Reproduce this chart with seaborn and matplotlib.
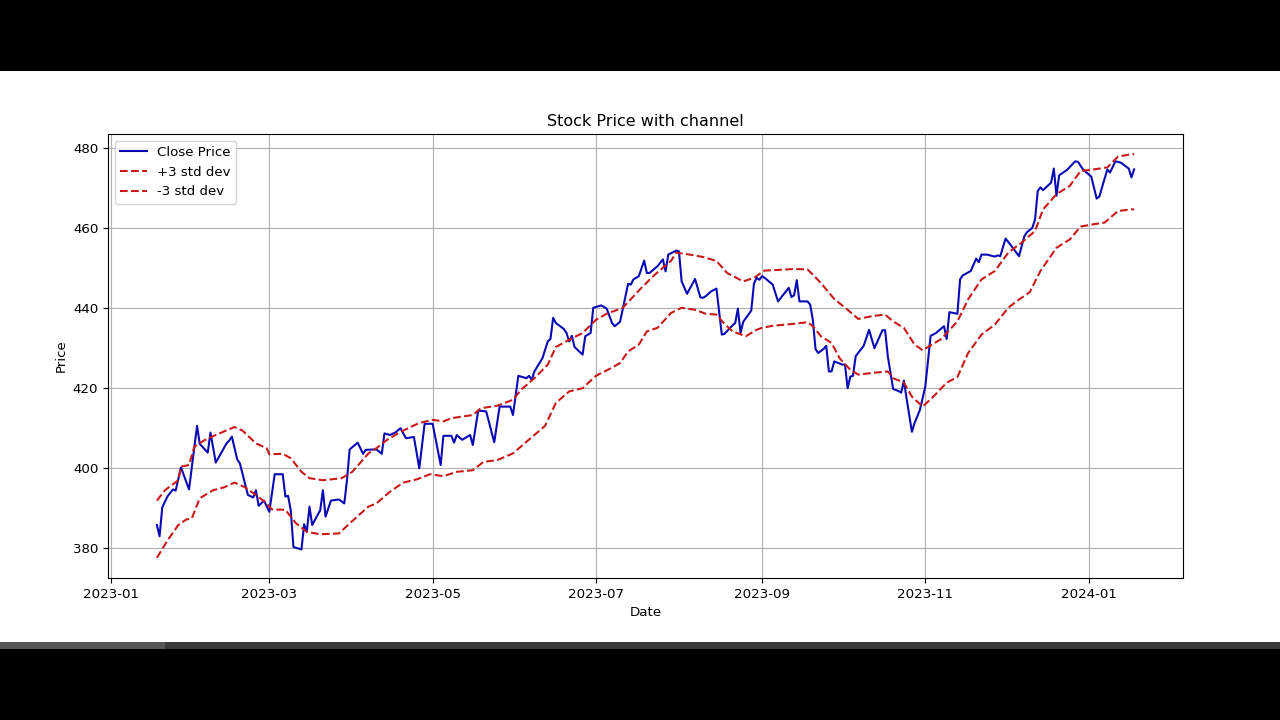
import matplotlib
matplotlib.use("Agg")
import matplotlib.pyplot as plt
import matplotlib.dates as mdates
from matplotlib.patches import Rectangle
import pandas as pd
import seaborn as sns

# close price
close_dates = [
    "2023-01-18", "2023-01-19", "2023-01-20", "2023-01-22", "2023-01-24", "2023-01-25",
    "2023-01-27", "2023-01-30", "2023-02-02", "2023-02-03", "2023-02-06", "2023-02-07",
    "2023-02-09", "2023-02-13", "2023-02-14", "2023-02-15", "2023-02-17", "2023-02-18",
    "2023-02-21", "2023-02-23", "2023-02-24", "2023-02-25", "2023-02-27", "2023-03-01",
    "2023-03-03", "2023-03-06", "2023-03-07", "2023-03-08", "2023-03-09", "2023-03-10",
    "2023-03-13", "2023-03-14", "2023-03-15", "2023-03-16", "2023-03-17", "2023-03-20",
    "2023-03-21", "2023-03-22", "2023-03-24", "2023-03-27", "2023-03-29", "2023-03-30",
    "2023-03-31", "2023-04-03", "2023-04-05", "2023-04-06", "2023-04-10", "2023-04-12",
    "2023-04-13", "2023-04-15", "2023-04-17", "2023-04-19", "2023-04-21", "2023-04-24",
    "2023-04-26", "2023-04-28", "2023-05-01", "2023-05-04", "2023-05-05", "2023-05-08",
    "2023-05-09", "2023-05-10", "2023-05-12", "2023-05-15", "2023-05-16", "2023-05-18",
    "2023-05-21", "2023-05-24", "2023-05-26", "2023-05-30", "2023-05-31", "2023-06-02",
    "2023-06-05", "2023-06-06", "2023-06-07", "2023-06-08", "2023-06-11", "2023-06-13",
    "2023-06-14", "2023-06-15", "2023-06-16", "2023-06-19", "2023-06-20", "2023-06-21",
    "2023-06-22", "2023-06-23", "2023-06-26", "2023-06-27", "2023-06-29", "2023-06-30",
    "2023-07-03", "2023-07-05", "2023-07-07", "2023-07-08", "2023-07-10", "2023-07-13",
    "2023-07-14", "2023-07-15", "2023-07-17", "2023-07-19", "2023-07-20", "2023-07-21",
    "2023-07-24", "2023-07-26", "2023-07-27", "2023-07-28", "2023-07-31", "2023-08-01",
    "2023-08-02", "2023-08-04", "2023-08-07", "2023-08-09", "2023-08-10", "2023-08-11",
    "2023-08-13", "2023-08-15", "2023-08-16", "2023-08-17", "2023-08-18", "2023-08-21",
    "2023-08-22", "2023-08-23", "2023-08-24", "2023-08-25", "2023-08-28", "2023-08-29",
    "2023-08-30", "2023-08-31", "2023-09-01", "2023-09-02", "2023-09-05", "2023-09-07",
    "2023-09-09", "2023-09-11", "2023-09-12", "2023-09-13", "2023-09-14", "2023-09-15",
    "2023-09-18", "2023-09-19", "2023-09-20", "2023-09-21", "2023-09-22", "2023-09-24",
    "2023-09-25", "2023-09-26", "2023-09-27", "2023-09-28", "2023-10-01", "2023-10-02",
    "2023-10-03", "2023-10-04", "2023-10-05", "2023-10-06", "2023-10-09", "2023-10-11",
    "2023-10-13", "2023-10-16", "2023-10-17", "2023-10-18", "2023-10-20", "2023-10-22",
    "2023-10-23", "2023-10-24", "2023-10-25", "2023-10-27", "2023-10-28", "2023-10-30",
    "2023-11-01", "2023-11-03", "2023-11-05", "2023-11-08", "2023-11-09", "2023-11-10",
    "2023-11-13", "2023-11-14", "2023-11-15", "2023-11-18", "2023-11-20", "2023-11-21",
    "2023-11-22", "2023-11-24", "2023-11-27", "2023-11-28", "2023-11-29", "2023-12-01",
    "2023-12-03", "2023-12-06", "2023-12-08", "2023-12-09", "2023-12-11", "2023-12-12",
    "2023-12-13", "2023-12-14", "2023-12-15", "2023-12-18", "2023-12-19", "2023-12-20",
    "2023-12-21", "2023-12-24", "2023-12-27", "2023-12-28", "2023-12-30", "2024-01-02",
    "2024-01-04", "2024-01-05", "2024-01-08", "2024-01-09", "2024-01-11", "2024-01-13",
    "2024-01-16", "2024-01-17", "2024-01-18",
]
close_prices = [
    385.8, 383.0, 390.2, 393.0, 394.7, 394.4,
    400.2, 394.7, 410.6, 406.1, 403.9, 408.9,
    401.4, 406.2, 406.9, 407.9, 402.2, 401.2,
    393.3, 392.7, 394.5, 390.6, 391.9, 389.1,
    398.5, 398.5, 392.9, 393.1, 389.5, 380.3,
    379.7, 386.0, 384.1, 390.4, 385.8, 389.5,
    394.5, 387.9, 391.9, 392.2, 391.2, 397.0,
    404.7, 406.4, 403.6, 404.6, 404.7, 403.6,
    408.7, 408.3, 408.9, 410.0, 407.5, 407.8,
    400.0, 411.1, 411.1, 400.8, 408.1, 408.1,
    406.4, 408.3, 407.1, 408.3, 405.8, 414.4,
    414.2, 406.5, 415.4, 415.4, 413.3, 423.1,
    422.5, 423.1, 422.1, 424.2, 427.5, 431.7,
    432.3, 437.6, 436.3, 434.8, 433.8, 431.7,
    433.1, 430.3, 428.4, 433.0, 433.8, 440.1,
    440.7, 439.9, 436.3, 435.5, 436.6, 446.1,
    445.9, 447.2, 448.0, 451.9, 448.8, 448.8,
    450.5, 452.2, 449.2, 453.4, 454.4, 454.2,
    446.7, 443.6, 447.3, 442.7, 442.6, 443.0,
    444.2, 444.9, 439.2, 433.4, 433.6, 435.7,
    436.3, 439.9, 433.8, 436.6, 439.4, 446.1,
    447.6, 447.1, 448.0, 447.6, 445.9, 441.7,
    443.4, 445.1, 442.8, 443.2, 447.0, 441.7,
    441.7, 440.9, 437.1, 429.8, 428.8, 429.8,
    430.6, 424.2, 424.2, 426.7, 425.9, 425.9,
    420.0, 422.9, 423.1, 428.0, 430.6, 434.6,
    430.0, 434.5, 434.5, 428.0, 419.8, 419.3,
    418.9, 421.9, 417.5, 409.1, 411.3, 414.6,
    420.4, 433.1, 433.8, 435.5, 432.3, 439.0,
    438.6, 447.2, 448.2, 449.3, 452.4, 451.5,
    453.4, 453.4, 452.9, 453.2, 453.0, 457.4,
    455.7, 453.0, 458.0, 459.0, 460.1, 462.2,
    469.3, 470.2, 469.5, 471.4, 474.9, 468.1,
    473.2, 474.6, 476.7, 476.6, 474.6, 472.9,
    467.4, 467.9, 474.7, 473.9, 476.7, 476.4,
    474.9, 472.7, 474.7,
]

# +3 std dev band
upper_dates = [
    "2023-01-18", "2023-01-21", "2023-01-26", "2023-01-27", "2023-01-30", "2023-02-01",
    "2023-02-05", "2023-02-10", "2023-02-16", "2023-02-19", "2023-02-24", "2023-02-28",
    "2023-03-01", "2023-03-06", "2023-03-09", "2023-03-13", "2023-03-16", "2023-03-21",
    "2023-03-28", "2023-04-01", "2023-04-07", "2023-04-10", "2023-04-14", "2023-04-18",
    "2023-04-23", "2023-04-26", "2023-05-01", "2023-05-05", "2023-05-08", "2023-05-16",
    "2023-05-19", "2023-05-25", "2023-05-31", "2023-06-03", "2023-06-08", "2023-06-13",
    "2023-06-16", "2023-06-21", "2023-06-26", "2023-07-01", "2023-07-05", "2023-07-11",
    "2023-07-18", "2023-07-23", "2023-07-29", "2023-07-31", "2023-08-05", "2023-08-10",
    "2023-08-15", "2023-08-19", "2023-08-25", "2023-08-29", "2023-09-02", "2023-09-05",
    "2023-09-13", "2023-09-18", "2023-09-20", "2023-09-23", "2023-09-28", "2023-10-03",
    "2023-10-07", "2023-10-12", "2023-10-17", "2023-10-20", "2023-10-24", "2023-10-28",
    "2023-10-31", "2023-11-07", "2023-11-13", "2023-11-17", "2023-11-22", "2023-11-27",
    "2023-12-02", "2023-12-07", "2023-12-12", "2023-12-15", "2023-12-20", "2023-12-25",
    "2023-12-29", "2024-01-03", "2024-01-08", "2024-01-12", "2024-01-17", "2024-01-18",
]
upper_band = [
    391.9, 394.5, 397.0, 400.4, 400.8, 405.4,
    407.1, 408.6, 410.3, 409.4, 406.2, 405.0,
    403.5, 403.6, 402.5, 399.1, 397.5, 397.0,
    397.5, 399.1, 403.7, 405.0, 407.1, 408.7,
    410.4, 411.3, 412.1, 411.7, 412.5, 413.3,
    415.0, 415.6, 417.1, 419.6, 422.5, 425.9,
    430.3, 432.1, 433.8, 437.1, 438.6, 440.1,
    445.1, 448.4, 451.8, 453.9, 453.4, 452.8,
    451.8, 448.8, 446.7, 447.6, 449.4, 449.5,
    449.8, 449.7, 448.4, 446.3, 442.3, 439.6,
    437.3, 438.0, 438.4, 436.7, 435.1, 430.9,
    429.5, 432.3, 436.7, 442.2, 447.2, 449.3,
    453.9, 456.4, 459.3, 464.7, 468.5, 470.6,
    474.3, 474.7, 475.2, 477.9, 478.5, 478.5,
]

# -3 std dev band
lower_dates = [
    "2023-01-18", "2023-01-22", "2023-01-26", "2023-01-29", "2023-01-31", "2023-02-03",
    "2023-02-08", "2023-02-12", "2023-02-16", "2023-02-20", "2023-02-24", "2023-02-28",
    "2023-03-02", "2023-03-07", "2023-03-11", "2023-03-15", "2023-03-20", "2023-03-27",
    "2023-03-31", "2023-04-07", "2023-04-10", "2023-04-15", "2023-04-20", "2023-04-25",
    "2023-04-30", "2023-05-05", "2023-05-10", "2023-05-16", "2023-05-20", "2023-05-25",
    "2023-05-31", "2023-06-05", "2023-06-12", "2023-06-16", "2023-06-21", "2023-06-26",
    "2023-07-01", "2023-07-06", "2023-07-10", "2023-07-13", "2023-07-17", "2023-07-20",
    "2023-07-24", "2023-07-29", "2023-08-02", "2023-08-07", "2023-08-11", "2023-08-15",
    "2023-08-18", "2023-08-21", "2023-08-26", "2023-08-30", "2023-09-01", "2023-09-05",
    "2023-09-13", "2023-09-18", "2023-09-20", "2023-09-23", "2023-09-27", "2023-09-30",
    "2023-10-04", "2023-10-07", "2023-10-12", "2023-10-18", "2023-10-20", "2023-10-24",
    "2023-10-27", "2023-10-31", "2023-11-04", "2023-11-09", "2023-11-13", "2023-11-17",
    "2023-11-22", "2023-11-27", "2023-12-02", "2023-12-05", "2023-12-10", "2023-12-14",
    "2023-12-20", "2023-12-25", "2023-12-29", "2024-01-03", "2024-01-07", "2024-01-12",
    "2024-01-17", "2024-01-18",
]
lower_band = [
    377.6, 382.0, 385.8, 387.2, 387.4, 392.5,
    394.5, 395.2, 396.4, 395.2, 393.3, 391.2,
    389.7, 389.6, 386.2, 384.1, 383.5, 383.7,
    386.2, 390.4, 391.2, 394.1, 396.4, 397.2,
    398.5, 398.0, 399.1, 399.5, 401.6, 402.0,
    403.7, 406.6, 410.6, 416.3, 419.2, 420.0,
    423.1, 424.8, 426.3, 429.2, 430.9, 434.2,
    435.1, 438.8, 440.1, 439.6, 438.6, 438.4,
    436.1, 434.2, 433.0, 434.6, 435.1, 435.6,
    436.1, 436.5, 435.5, 433.0, 431.3, 427.5,
    424.6, 423.4, 423.8, 424.2, 422.5, 421.4,
    417.9, 415.4, 417.9, 421.4, 422.8, 428.8,
    433.4, 435.9, 440.1, 441.7, 444.0, 449.3,
    455.1, 457.2, 460.4, 461.0, 461.4, 464.3,
    464.7, 464.7,
]


def main():
    close_df = pd.DataFrame({"Date": pd.to_datetime(close_dates), "Price": close_prices})
    upper_df = pd.DataFrame({"Date": pd.to_datetime(upper_dates), "Price": upper_band})
    lower_df = pd.DataFrame({"Date": pd.to_datetime(lower_dates), "Price": lower_band})

    plt.rcParams["font.size"] = 9.6
    plt.rcParams["axes.titlesize"] = 11.5

    fig = plt.figure(figsize=(12.8, 7.2), dpi=100, facecolor="black")
    # white page of the screenshot and the dark strip below it
    fig.patches.append(Rectangle((0, 0.1083), 1, 0.7931, transform=fig.transFigure,
                                 facecolor="white", edgecolor="none", zorder=-10))
    fig.patches.append(Rectangle((0, 0.0986), 1, 0.0097, transform=fig.transFigure,
                                 facecolor="#3a3a3a", edgecolor="none", zorder=-10))
    fig.patches.append(Rectangle((0, 0.0986), 0.129, 0.0097, transform=fig.transFigure,
                                 facecolor="#555555", edgecolor="none", zorder=-10))

    ax = fig.add_axes([0.0844, 0.1972, 0.8398, 0.6167])
    sns.lineplot(data=close_df, x="Date", y="Price", ax=ax, color="#0a0ab4",
                 linewidth=1.5, label="Close Price")
    sns.lineplot(data=upper_df, x="Date", y="Price", ax=ax, color="#c81a1a",
                 linewidth=1.5, linestyle="--", label="+3 std dev")
    sns.lineplot(data=lower_df, x="Date", y="Price", ax=ax, color="#c81a1a",
                 linewidth=1.5, linestyle="--", label="-3 std dev")

    ax.set_title("Stock Price with channel")
    ax.set_xlabel("Date")
    ax.set_ylabel("Price")
    ax.xaxis.set_major_locator(mdates.MonthLocator(bymonth=[1, 3, 5, 7, 9, 11]))
    ax.xaxis.set_major_formatter(mdates.DateFormatter("%Y-%m"))
    ax.grid(True)
    ax.legend(loc="upper left")

    fig.savefig("out.png", dpi=100, facecolor=fig.get_facecolor())


if __name__ == "__main__":
    main()
